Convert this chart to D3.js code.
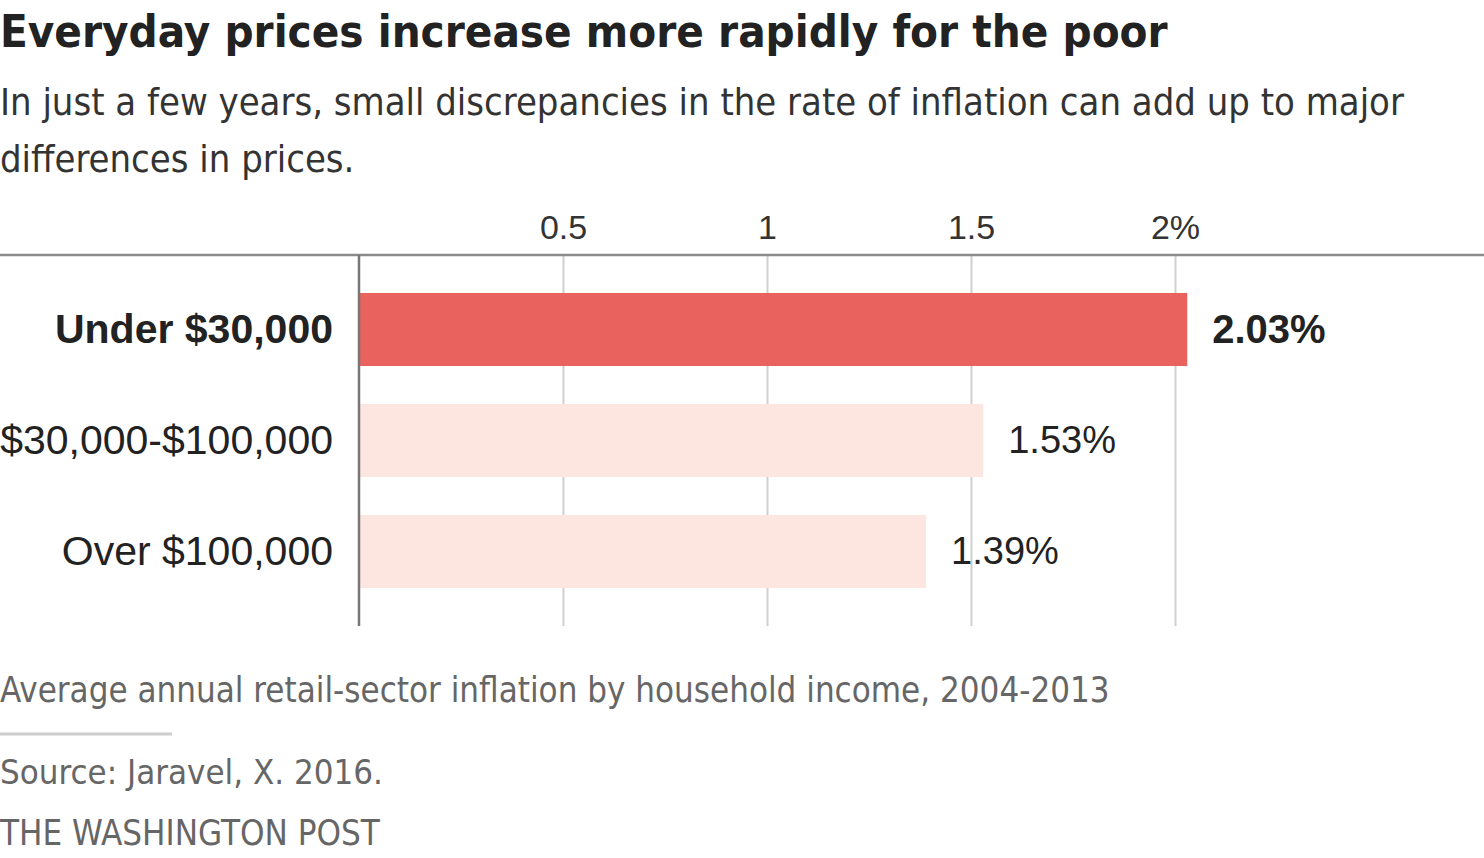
<!DOCTYPE html>
<html>
<head>
<meta charset="utf-8">
<script src="https://cdn.jsdelivr.net/npm/d3@7"></script>
<style>
  body { margin: 0; background: #fff; }
  svg { display: block; }
  .cond { font-family: "Liberation Sans Narrow", "DejaVu Sans Condensed", "Roboto", sans-serif; }
  .reg { font-family: "Liberation Sans", "Roboto", "Arial", sans-serif; }
</style>
</head>
<body>
<svg id="chart" width="1484" height="858"></svg>
<script>
// data
var categories = ["Under $30,000", "$30,000-$100,000", "Over $100,000"];
var values = [2.03, 1.53, 1.39];
var tickValues = [0.5, 1, 1.5, 2];
var tickLabels = ["0.5", "1", "1.5", "2%"];

var title = "Everyday prices increase more rapidly for the poor";
var subtitle = ["In just a few years, small discrepancies in the rate of inflation can add up to major",
                "differences in prices."];
var caption = "Average annual retail-sector inflation by household income, 2004-2013";
var source = "Source: Jaravel, X. 2016.";
var credit = "THE WASHINGTON POST";

var svg = d3.select("#chart");

// squeeze/stretch a text's font-size so it spans the wanted width
function fitText(sel, w) {
    var node = sel.node();
    var fs = parseFloat(sel.attr("font-size"));
    var len = node.getComputedTextLength();
    if (len > 0) sel.attr("font-size", fs * w / len);
}

var t = svg.append("text").attr("class", "cond").attr("x", 0).attr("y", 47)
    .attr("font-size", 46).attr("font-weight", "bold").attr("fill", "#222")
    .text(title);
fitText(t, 1168);

var s1 = svg.append("text").attr("class", "cond").attr("x", 0).attr("y", 115)
    .attr("font-size", 38).attr("fill", "#333").text(subtitle[0]);
fitText(s1, 1404);
svg.append("text").attr("class", "cond").attr("x", 0).attr("y", 172)
    .attr("font-size", s1.attr("font-size")).attr("fill", "#333").text(subtitle[1]);

// scales
var x = d3.scaleLinear().domain([0, 2]).range([359, 1175]);
var y = d3.scaleBand().domain(categories).range([274, 607])
    .paddingInner(0.342).paddingOuter(0.171);

var gridTop = 255, gridBottom = 626;

// axis with gridlines
var axis = svg.append("g")
    .attr("transform", "translate(0," + gridTop + ")")
    .call(d3.axisTop(x)
        .tickValues(tickValues)
        .tickSize(-(gridBottom - gridTop))
        .tickFormat(function (d, i) { return tickLabels[i]; }));
axis.select(".domain").remove();
axis.selectAll(".tick line").attr("stroke", "#d0d0d0").attr("stroke-width", 2);
axis.selectAll(".tick text")
    .attr("class", "reg")
    .attr("y", -16)
    .attr("font-size", 34)
    .attr("fill", "#333");

// top rule
svg.append("line").attr("x1", 0).attr("x2", 1484)
    .attr("y1", gridTop).attr("y2", gridTop)
    .attr("stroke", "#8a8a8a").attr("stroke-width", 2.5);

// bars
svg.selectAll("rect.bar").data(values).enter().append("rect")
    .attr("class", "bar")
    .attr("x", x(0))
    .attr("y", function (d, i) { return y(categories[i]); })
    .attr("width", function (d) { return x(d) - x(0); })
    .attr("height", y.bandwidth())
    .attr("fill", function (d, i) { return i == 0 ? "#ea625e" : "#fde6e0"; });

// zero line
svg.append("line").attr("x1", x(0)).attr("x2", x(0))
    .attr("y1", gridTop).attr("y2", gridBottom)
    .attr("stroke", "#777").attr("stroke-width", 2.5);

// category labels
svg.selectAll("text.cat").data(categories).enter().append("text")
    .attr("class", "cat reg")
    .attr("x", 333)
    .attr("y", function (d) { return y(d) + y.bandwidth() / 2; })
    .attr("dy", "0.33em")
    .attr("text-anchor", "end")
    .attr("font-size", 41)
    .attr("font-weight", function (d, i) { return i == 0 ? "bold" : "normal"; })
    .attr("fill", "#222")
    .text(function (d) { return d; });

// value labels
svg.selectAll("text.val").data(values).enter().append("text")
    .attr("class", "val reg")
    .attr("x", function (d) { return x(d) + 25; })
    .attr("y", function (d, i) { return y(categories[i]) + y.bandwidth() / 2; })
    .attr("dy", "0.33em")
    .attr("font-size", function (d, i) { return i == 0 ? 40 : 38; })
    .attr("font-weight", function (d, i) { return i == 0 ? "bold" : "normal"; })
    .attr("fill", "#222")
    .text(function (d) { return d.toFixed(2) + "%"; });

// footer
var c = svg.append("text").attr("class", "cond").attr("x", 0).attr("y", 702)
    .attr("font-size", 34).attr("fill", "#666").text(caption);
fitText(c, 1110);

svg.append("line").attr("x1", 0).attr("x2", 172).attr("y1", 734).attr("y2", 734)
    .attr("stroke", "#ccc").attr("stroke-width", 3);

var so = svg.append("text").attr("class", "cond").attr("x", 0).attr("y", 784)
    .attr("font-size", 34).attr("fill", "#666").text(source);
fitText(so, 383);

var cr = svg.append("text").attr("class", "cond").attr("x", 0).attr("y", 845)
    .attr("font-size", 34).attr("fill", "#666").text(credit);
fitText(cr, 380);
</script>
</body>
</html>
